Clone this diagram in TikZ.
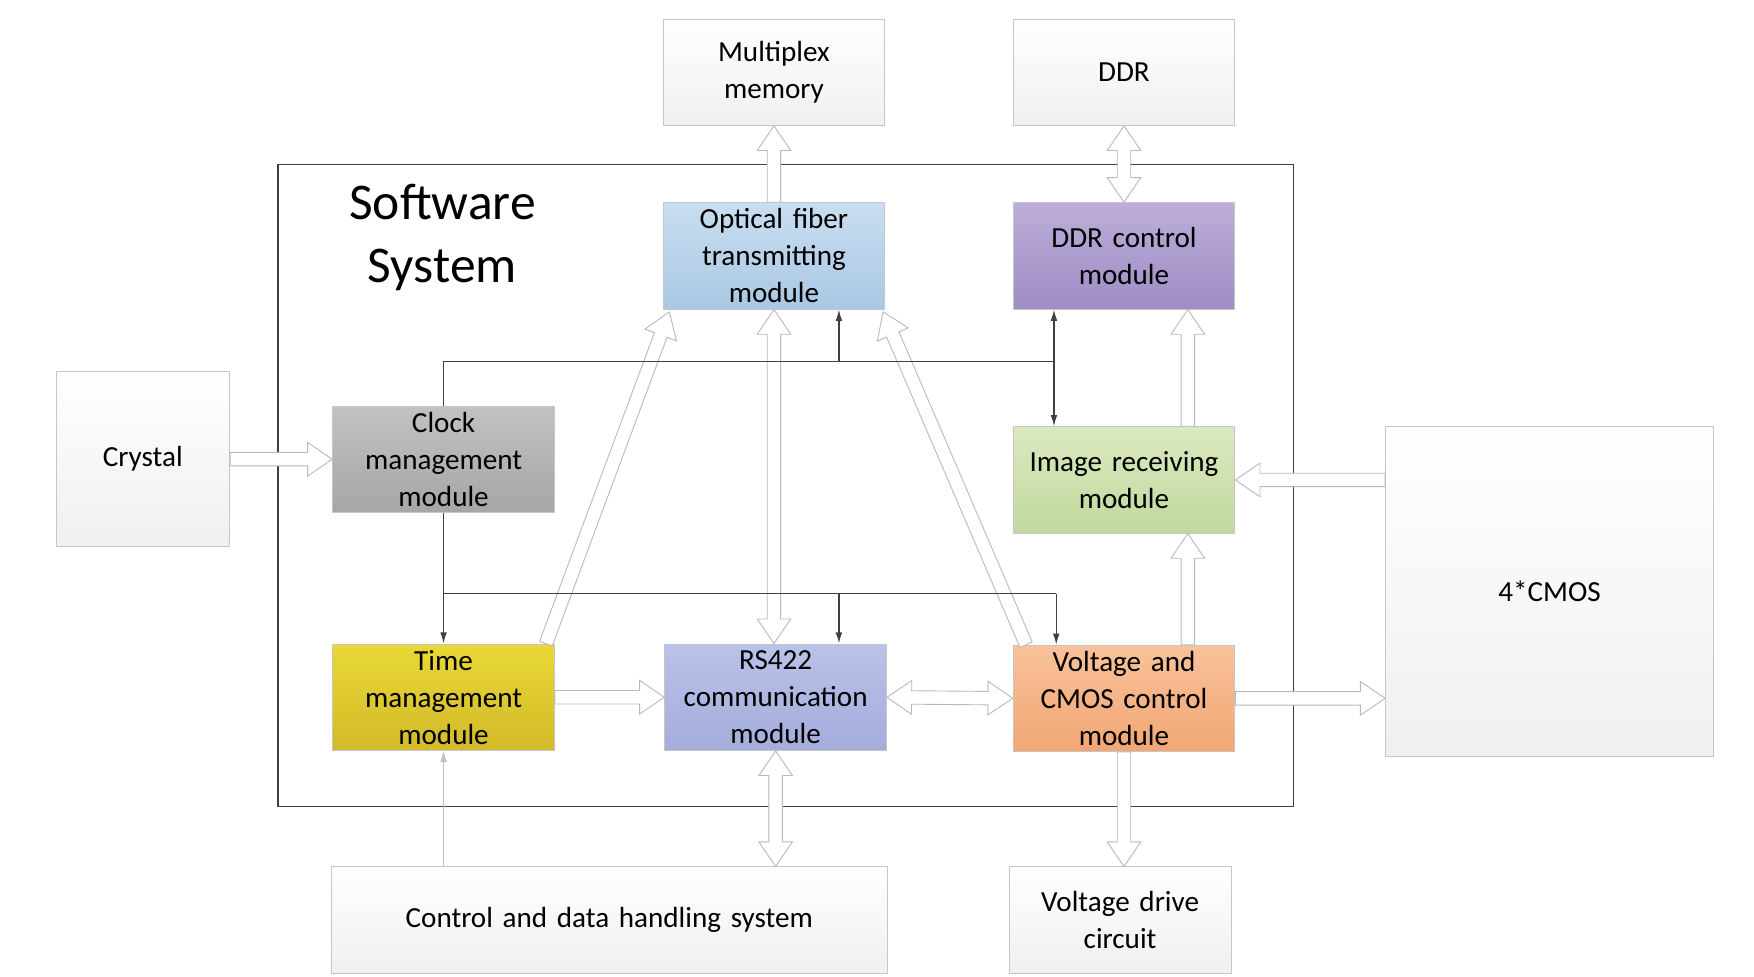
\documentclass[tikz,border=0pt]{standalone}
\usepackage{fontspec}
\setmainfont{Carlito}
\usetikzlibrary{arrows.meta,calc}
\tikzset{
  box/.style={rectangle, draw=gray!45, minimum width=99pt, minimum height=47.5pt,
    text width=95pt, align=center, font=\fontsize{13}{16.5}\selectfont, inner sep=0pt},
  wbox/.style={box, top color=white, bottom color=gray!12},
  cbox/.style 2 args={box, top color=#1, bottom color=#2},
  harrow/.style={draw=gray!55, fill=white, line width=0.4pt, line join=miter},
  thin/.style={draw=black!75, line width=0.6pt},
  tip/.style={-{Latex[length=5pt,width=3pt]}}
}
\definecolor{blueA}{HTML}{C9DEF0}\definecolor{blueB}{HTML}{A9C7E3}
\definecolor{purA}{HTML}{BCAED8}\definecolor{purB}{HTML}{9F8CC5}
\definecolor{grayA}{HTML}{C2C2C2}\definecolor{grayB}{HTML}{A6A6A6}
\definecolor{grnA}{HTML}{DAE9C0}\definecolor{grnB}{HTML}{C2D89E}
\definecolor{yelA}{HTML}{EAD836}\definecolor{yelB}{HTML}{D2BA2A}
\definecolor{lavA}{HTML}{BAC2E9}\definecolor{lavB}{HTML}{A4ADDB}
\definecolor{orA}{HTML}{F9C29A}\definecolor{orB}{HTML}{F1A674}
% hollow arrow, head at #2
\newcommand\harr[2]{%
  \path[harrow] let \p1=(#1),\p2=(#2),\n1={atan2(\y2-\y1,\x2-\x1)},
    \n2={veclen(\x2-\x1,\y2-\y1)} in
    {[shift={(\p1)},rotate=\n1] (0pt,-3pt) -- (\n2-11pt,-3pt) -- (\n2-11pt,-7.5pt)
     -- (\n2,0pt) -- (\n2-11pt,7.5pt) -- (\n2-11pt,3pt) -- (0pt,3pt) -- cycle};}
% hollow arrow, heads at both ends
\newcommand\hharr[2]{%
  \path[harrow] let \p1=(#1),\p2=(#2),\n1={atan2(\y2-\y1,\x2-\x1)},
    \n2={veclen(\x2-\x1,\y2-\y1)} in
    {[shift={(\p1)},rotate=\n1] (0pt,0pt) -- (11pt,-7.5pt) -- (11pt,-3pt) -- (\n2-11pt,-3pt) -- (\n2-11pt,-7.5pt)
     -- (\n2,0pt) -- (\n2-11pt,7.5pt) -- (\n2-11pt,3pt) -- (11pt,3pt) -- (11pt,7.5pt) -- cycle};}
\begin{document}
\begin{tikzpicture}[x=0.5pt,y=-0.5pt]
\useasboundingbox (0,0) rectangle (1566,872);
\draw[black!75, line width=0.7pt] (248,147) rectangle (1155,720);
\node[font=\fontsize{23}{28}\selectfont, align=center] (title) at (395,212) {Software\\System};

\node[wbox] (mux) at (691,64.5) {Multiplex\\memory};
\node[wbox] (ddr) at (1003.5,64.5) {DDR};
\node[cbox={blueA}{blueB}] (opt) at (691,228.5) {Optical fiber\\transmitting\\module};
\node[cbox={purA}{purB}] (ddrc) at (1003.5,228.5) {DDR control\\module};
\node[wbox, minimum width=77.5pt, text width=70pt, minimum height=78pt] (crys) at (127.5,410) {Crystal};
\node[cbox={grayA}{grayB}] (clk) at (396,410) {Clock\\management\\module};
\node[cbox={grnA}{grnB}] (img) at (1003.5,428.5) {Image receiving\\module};
\node[wbox, minimum width=146.5pt, text width=140pt, minimum height=147pt] (cmos) at (1383.5,528) {4*CMOS};
\node[cbox={yelA}{yelB}] (time) at (396,622.5) {Time\\management\\module};
\node[cbox={lavA}{lavB}] (rs) at (692.5,622.5) {RS422\\communication\\module};
\node[cbox={orA}{orB}] (volt) at (1003.5,623.5) {Voltage and\\CMOS control\\module};
\node[wbox, minimum width=248pt, text width=240pt] (cdh) at (544,821.5) {Control and data handling system};
\node[wbox] (vdc) at (1000,821.5) {Voltage drive\\circuit};

% hollow arrows
\harr{crys.east}{clk.west}
\harr{opt.north}{mux.south}
\hharr{ddrc.north}{ddr.south}
\harr{$(time.north east)+(-8,0)$}{$(opt.south west)+(6,2)$}
\hharr{rs.north-|opt.south}{opt.south}
\harr{$(volt.north west)+(12,0)$}{$(opt.south east)+(-2,2)$}
\harr{time.east}{rs.west}
\hharr{rs.east}{volt.west}
\harr{volt.east}{volt.east-|cmos.west}
\harr{img.east-|cmos.west}{img.east}
\harr{$(volt.north)+(57,0)$}{$(img.south)+(57,0)$}
\harr{$(img.north)+(57,0)$}{$(ddrc.south)+(57,0)$}
\harr{volt.south}{volt.south|-vdc.north}
\hharr{rs.south}{cdh.north-|rs.south}

% thin clock lines
\coordinate (c1) at (396,323);
\coordinate (c2) at (396,530);
\draw[thin] (clk.north) -- (c1) -- (c1-|941,0);
\draw[thin, tip] (c1-|941,0) -- (ddrc.south-|941,0);
\draw[thin, tip] (c1-|941,0) -- (img.north-|941,0);
\draw[thin, tip] (c1-|749,0) -- (opt.south-|749,0);
\draw[thin] (clk.south) -- (c2) -- (c2-|943,0);
\draw[thin, tip] (c2-|943,0) -- (volt.north-|943,0);
\draw[thin, tip] (c2) -- (time.north);
\draw[thin, tip] (c2-|749,0) -- (rs.north-|749,0);
\draw[draw=gray!50, line width=0.5pt, tip] (cdh.north-|time.south) -- (time.south);
\end{tikzpicture}
\end{document}
